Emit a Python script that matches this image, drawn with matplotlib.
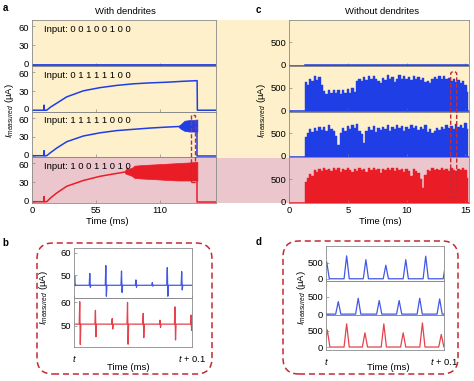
import numpy as np
import matplotlib.pyplot as plt
from matplotlib.patches import Rectangle, FancyBboxPatch
from matplotlib.transforms import ScaledTranslation

plt.rcParams['font.family'] = ['Liberation Sans', 'DejaVu Sans']
plt.rcParams['font.size'] = 6.8
plt.rcParams['mathtext.fontset'] = 'custom'
plt.rcParams['mathtext.rm'] = 'Liberation Sans'
plt.rcParams['mathtext.it'] = 'Liberation Sans:italic'

# ---- panel a: with dendrites (time in ms, current in uA) ----
a_inputs = ["Input: 0 0 1 0 0 1 0 0", "Input: 0 1 1 1 1 1 0 0",
            "Input: 1 1 1 1 1 0 0 0", "Input: 1 0 0 1 1 0 1 0"]
a_t1 = [0, 158]
a_y1 = [0.3, 0.3]
a_t2 = [0, 10.2, 10.4, 10.6, 12.6, 16, 21.2, 29.8, 44.1, 58.4, 72.7, 87, 101.4, 115.7, 130, 141.8, 142, 158]
a_y2 = [0, 0, 8, 0, 0, 5, 11, 21, 30.5, 35.5, 39, 41.5, 43, 44, 45.5, 46.5, 0, 0]
a_t3 = [0, 10.2, 10.4, 10.6, 12.6, 16, 21.2, 29.8, 44.1, 58.4, 72.7, 87, 101.4, 115.7, 127]
a_y3 = [0, 0, 8, 0, 0, 5, 12, 22, 31, 36, 39.5, 41.5, 43.5, 45, 46]
a_band3_t = [126, 128, 131, 135, 139, 142]
a_band3_lo = [45, 42, 39, 38, 38, 38]
a_band3_hi = [47, 50, 55, 56, 56, 57]
a_t4 = [0, 10.2, 10.4, 10.6, 12.6, 16, 21.2, 29.8, 44.1, 58.4, 72.7, 81, 82, 83, 86]
a_y4 = [0, 0, 8, 0, 0, 6, 13.5, 24, 33, 39.5, 44, 46.5, 52, 46.5, 47]
a_band4_t = [80, 86, 88, 95, 105, 115, 125, 135, 142]
a_band4_lo = [44, 40, 37, 36, 35, 34, 33, 33, 33]
a_band4_hi = [49, 53, 56, 57, 58, 59, 60, 61, 62]
a_end_t = 142

# ---- panel c: without dendrites, sampled every 0.2 ms from 1.4 to 15.2 ----
c_t = np.round(np.arange(1.4, 15.21, 0.2), 1)
c_row1 = [12] * len(c_t)
c_row2 = [620, 560, 700, 640, 760, 680, 740, 560, 430, 360,
          450, 380, 460, 390, 450, 370, 460, 400, 470, 390,
          500, 420, 640, 700, 660, 740, 680, 750, 690, 760,
          700, 640, 600, 720, 680, 770, 700, 740, 620, 700,
          780, 690, 760, 700, 740, 680, 760, 700, 730, 680,
          720, 620, 660, 600, 700, 740, 690, 750, 700, 760,
          690, 720, 640, 700, 620, 680, 600, 660, 560, 420]
c_row3 = [430, 520, 600, 540, 620, 560, 650, 580, 640, 560,
          680, 600, 560, 440, 260, 520, 620, 560, 660, 600,
          690, 620, 700, 560, 480, 300, 560, 640, 580, 660,
          540, 620, 580, 650, 600, 680, 560, 640, 600, 690,
          620, 660, 560, 640, 600, 680, 620, 660, 580, 640,
          600, 680, 540, 600, 500, 560, 620, 580, 640, 600,
          680, 620, 660, 600, 700, 640, 680, 620, 720, 600]
c_row4 = [440, 520, 620, 560, 700, 660, 720, 680, 740, 700,
          720, 680, 740, 700, 730, 660, 720, 690, 740, 700,
          660, 720, 680, 740, 700, 720, 660, 730, 690, 740,
          700, 720, 640, 720, 690, 740, 700, 730, 680, 740,
          700, 720, 650, 720, 680, 560, 720, 680, 640, 500,
          320, 580, 700, 680, 740, 700, 720, 690, 740, 700,
          720, 680, 740, 700, 680, 720, 690, 730, 700, 520]

# ---- panel b: zoomed spikes (fraction of 0.1 ms window) ----
b_blue_t = [0.008, 0.136, 0.272, 0.405, 0.527, 0.666, 0.793, 0.915]
b_blue_up = [49.5, 50.7, 54.2, 51.8, 47.8, 46.6, 53.3, 51.5]
b_blue_dn = [45.2, 44.5, 40.5, 42.2, 44.5, 45.0, 40.5, 43.3]
b_blue_base = 45.4
b_red_t = [0.051, 0.184, 0.326, 0.456, 0.589, 0.731, 0.858, 0.994]
b_red_up = [60.3, 56.6, 53.1, 60.0, 55.3, 52.4, 58.1, 54.6]
b_red_dn = [42.0, 45.3, 48.6, 42.1, 44.9, 49.3, 43.9, 48.0]
b_red_base = 50.7

# ---- panel d: zoomed peaks ----
d_t1 = [0.006, 0.175, 0.338, 0.507, 0.676, 0.845, 1.015]
d_h1 = [530, 720, 600, 425, 600, 710, 500]
d_t2 = [0.104, 0.273, 0.451, 0.620, 0.794, 0.963]
d_h2 = [355, 450, 385, 385, 450, 430]
d_t3 = [0.011, 0.175, 0.330, 0.490, 0.654, 0.817, 0.977]
d_h3 = [520, 700, 430, 700, 430, 730, 380]

W, H = 474, 381
fig = plt.figure(figsize=(W / 100, H / 100), dpi=100)
grey = '#8a8a8a'
blue = '#1f3ee6'
red = '#ea1c26'
lblue = '#4257e6'
lred = '#e6424e'
dash_red = '#c22a36'
yellow = '#fdf0cb'
pink = '#ebc6cd'


def box(l, t, r, b):
    return [l / W, 1 - b / H, (r - l) / W, (b - t) / H]


def ftext(x, y, s, **kw):
    fig.text(x / W, 1 - y / H, s, **kw)


def style(ax):
    ax.set_facecolor('none')
    for s in ax.spines.values():
        s.set_color(grey)
        s.set_linewidth(0.6)
    ax.tick_params(direction='in', length=2, width=0.5, color=grey, pad=2, labelsize=6.8)


def nudge_ylabels(ax, dy_first, dy_last):
    labs = ax.get_yticklabels()
    labs[0].set_transform(labs[0].get_transform() + ScaledTranslation(0, dy_first / 100, fig.dpi_scale_trans))
    labs[-1].set_transform(labs[-1].get_transform() + ScaledTranslation(0, dy_last / 100, fig.dpi_scale_trans))


def px_rect(l, t, r, b, **kw):
    return Rectangle((l / 100, (H - b) / 100), (r - l) / 100, (b - t) / 100,
                     transform=fig.dpi_scale_trans, **kw)


# background bands
fig.patches.append(px_rect(32, 20, 469, 158, facecolor=yellow, edgecolor='none', zorder=-5))
fig.patches.append(px_rect(32, 158, 469, 203, facecolor=pink, edgecolor='none', zorder=-5))

rows = [20, 66, 111.5, 157, 203]

# panel a
for i in range(4):
    ax = fig.add_axes(box(32, rows[i], 216, rows[i + 1]))
    style(ax)
    col = red if i == 3 else blue
    if i == 0:
        ax.plot(a_t1, a_y1, color=col, lw=1.3)
    elif i == 1:
        ax.plot(a_t2, a_y2, color=col, lw=1.1)
    elif i == 2:
        ax.plot(a_t3, a_y3, color=col, lw=1.1)
        ax.fill_between(a_band3_t, a_band3_lo, a_band3_hi, color=col, lw=0.5)
        ax.plot([a_end_t, a_end_t, 158], [a_band3_lo[-1], 0, 0], color=col, lw=1.1)
    else:
        ax.plot(a_t4, a_y4, color=col, lw=1.1)
        ax.fill_between(a_band4_t, a_band4_lo, a_band4_hi, color=col, lw=0.5)
        ax.plot([a_end_t, a_end_t, 158], [a_band4_lo[-1], 0, 0], color=col, lw=1.1)
    ax.set_xlim(0, 158)
    ax.set_ylim(-2, 69.5)
    ax.set_yticks([0, 30, 60])
    ax.set_xticks([0, 55, 110])
    if i < 3:
        ax.set_xticklabels([])
    nudge_ylabels(ax, 1.5, -1.5)
    ax.text(0.065, 0.8, a_inputs[i], transform=ax.transAxes, va='center', ha='left', fontsize=6.8)

# panel c
c_rows = [c_row1, c_row2, c_row3, c_row4]
for i in range(4):
    ax = fig.add_axes(box(289, rows[i], 469, rows[i + 1]))
    style(ax)
    col = red if i == 3 else blue
    ax.plot([0, 15.3], [0, 0], color=col, lw=1.1)
    if i == 0:
        ax.plot(c_t, c_rows[i], color=col, lw=1.1)
    else:
        ax.fill_between(c_t, 0, c_rows[i], color=col, lw=0.3, step='mid')
    ax.set_xlim(0, 15.3)
    ax.set_ylim(-10, 975)
    ax.set_yticks([0, 500])
    ax.set_xticks([0, 5, 10, 15])
    if i < 3:
        ax.set_xticklabels([])
    nudge_ylabels(ax, 1.0, 0)

# panel b
def spike_trace(times, ups, downs, base, w=0.007):
    xs, ys = [-0.05], [base]
    for t, u, d in zip(times, ups, downs):
        xs += [t - w, t - w / 3, t + w / 3, t + w]
        ys += [base, u, d, base]
    xs.append(1.05)
    ys.append(base)
    return xs, ys


b_rows = [(b_blue_t, b_blue_up, b_blue_dn, b_blue_base, lblue, (39.7, 62.1)),
          (b_red_t, b_red_up, b_red_dn, b_red_base, lred, (40.9, 61.9))]
b_y = [248, 298, 347]
for i, (tt, uu, dd, base, col, yl) in enumerate(b_rows):
    ax = fig.add_axes(box(74, b_y[i], 192, b_y[i + 1]))
    style(ax)
    xs, ys = spike_trace(tt, uu, dd, base)
    ax.plot(xs, ys, color=col, lw=0.9)
    ax.set_xlim(0, 1)
    ax.set_ylim(*yl)
    ax.set_yticks([50, 60])
    ax.set_xticks([0, 1])
    if i == 0:
        ax.set_xticklabels([])
    else:
        ax.set_xticklabels(['$t$', '$t$ + 0.1'])
        ax.tick_params(axis='x', length=0, pad=4)

# panel d
def peak_trace(times, heights, w=0.022):
    xs, ys = [-0.1], [0]
    for t, h in zip(times, heights):
        xs += [t - w, t, t + w]
        ys += [0, h, 0]
    xs.append(1.1)
    ys.append(0)
    return xs, ys


d_rows = [(d_t1, d_h1, lblue, (-70, 1030)), (d_t2, d_h2, lblue, (-25, 940)),
          (d_t3, d_h3, lred, (-90, 970))]
d_y = [246, 281, 315, 350]
for i, (tt, hh, col, yl) in enumerate(d_rows):
    ax = fig.add_axes(box(326, d_y[i], 444, d_y[i + 1]))
    style(ax)
    xs, ys = peak_trace(tt, hh)
    ax.plot(xs, ys, color=col, lw=0.9)
    ax.set_xlim(0, 1)
    ax.set_ylim(*yl)
    ax.set_yticks([0, 500])
    ax.set_xticks([0, 1])
    if i < 2:
        ax.set_xticklabels([])
    else:
        ax.set_xticklabels(['$t$', '$t$ + 0.1'])
        ax.tick_params(axis='x', length=0, pad=4)

# dashed highlight boxes
fig.patches.append(px_rect(191, 115, 195.3, 182, facecolor='none', edgecolor=dash_red,
                           lw=1.0, linestyle=(0, (3, 1.5)), zorder=5))
fig.patches.append(FancyBboxPatch((450.7 / 100, (H - 197) / 100), 6 / 100, 125 / 100,
                                  boxstyle='round,pad=0,rounding_size=0.02',
                                  transform=fig.dpi_scale_trans, facecolor='none',
                                  edgecolor=dash_red, lw=1.0, linestyle=(0, (3, 1.5)), zorder=5))
for l, t, r, b in [(37, 243, 212, 374), (283, 241, 458, 374)]:
    fig.patches.append(FancyBboxPatch((l / 100, (H - b) / 100), (r - l) / 100, (b - t) / 100,
                                      boxstyle='round,pad=0,rounding_size=0.16',
                                      transform=fig.dpi_scale_trans, facecolor='none',
                                      edgecolor=dash_red, lw=1.1, linestyle=(0, (4, 2.5)), zorder=5))

# texts
ylab = r'$I_{measured}$ (μA)'
ftext(5, 8, 'a', fontweight='bold', fontsize=7, ha='center', va='center')
ftext(258, 10, 'c', fontweight='bold', fontsize=7, ha='center', va='center')
ftext(5, 243, 'b', fontweight='bold', fontsize=7, ha='center', va='center')
ftext(259, 242, 'd', fontweight='bold', fontsize=7, ha='center', va='center')
ftext(125, 12, 'With dendrites', ha='center', va='center')
ftext(382, 12, 'Without dendrites', ha='center', va='center')
ftext(107, 222, 'Time (ms)', ha='center', va='center')
ftext(380, 222, 'Time (ms)', ha='center', va='center')
ftext(128, 367, 'Time (ms)', ha='center', va='center')
ftext(388, 367, 'Time (ms)', ha='center', va='center')
ftext(10, 111, ylab, rotation=90, ha='center', va='center')
ftext(262, 111, ylab, rotation=90, ha='center', va='center')
ftext(43, 298, ylab, rotation=90, ha='center', va='center')
ftext(302, 298, ylab, rotation=90, ha='center', va='center')

fig.savefig('out.png', dpi=100)
